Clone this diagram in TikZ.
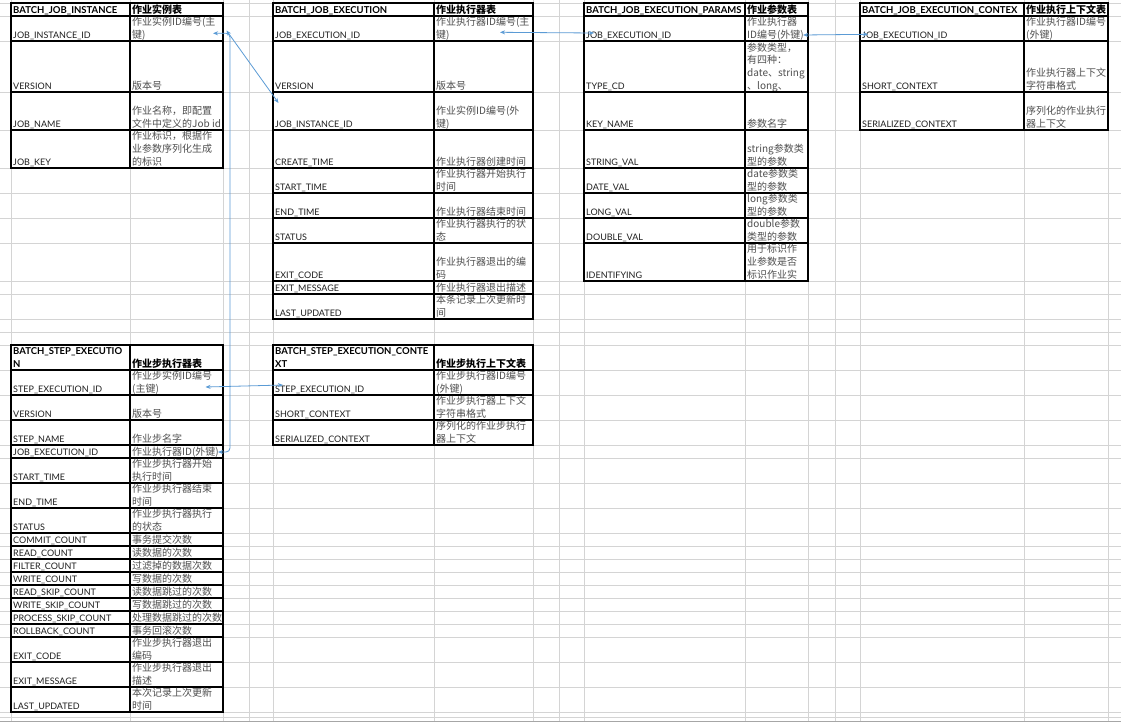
\documentclass[tikz,border=0pt]{standalone}
\usepackage{fontspec}
\newfontfamily\namefont{Lato}
\newfontfamily\cjk{Noto Sans CJK SC}
\usetikzlibrary{arrows.meta}
\definecolor{gridcol}{HTML}{D4D4D4}
\definecolor{namecol}{HTML}{1F1F1F}
\definecolor{desccol}{HTML}{4F4F4F}
\definecolor{arrblue}{HTML}{5B9BD5}
\newcommand\xrow[8]{%
  \draw[tblline] (#2,#5) rectangle (#4,#6) (#3,#5) -- (#3,#6);
  \node[nm] (#1n) at (#2+2,#6-2.5) {#7};
  \node[ds] (#1d) at (#3+2,#6-2.5) {#8};}
\newcommand\xhead[8]{%
  \draw[tblline] (#2,#5) rectangle (#4,#6) (#3,#5) -- (#3,#6);
  \node[hn] (#1n) at (#2+2,#6-2.5) {#7};
  \node[hd] (#1d) at (#3+2,#6-2.5) {#8};}
\begin{document}
\begin{tikzpicture}[x=1pt,y=-1pt,
  gridline/.style={draw=gridcol,line width=0.9pt},
  tblline/.style={draw=black,line width=1.3pt},
  txt/.style={anchor=south west,inner sep=0pt,text depth=0pt,align=left},
  nm/.style={txt,text=namecol,font=\namefont\fontsize{9}{12.7}\selectfont},
  hn/.style={txt,text=black,font=\namefont\bfseries\fontsize{9.5}{12.7}\selectfont},
  ds/.style={txt,text=desccol,font=\cjk\fontsize{10}{12.7}\selectfont},
  hd/.style={txt,text=black,font=\cjk\bfseries\fontsize{10}{12.7}\selectfont},
  conn/.style={draw=arrblue,line width=0.8pt,arrows={Stealth[length=5pt,width=4pt]-Stealth[length=5pt,width=4pt]}}]
\useasboundingbox (0,0) rectangle (1121,723);
\fill[white] (0,0) rectangle (1121,723);
% grid
\foreach \x in {11,130,223,249,273,434,533,559,584,745,808,835,860,1024,1108}
  \draw[gridline] (\x,0) -- (\x,721);
\foreach \y in {3,16,41,92,130,168,193,218,243,281,294,319,332,345,370,395,420,445,458,483,508,533,546,559,572,585,598,611,624,637,662,687,712,717}
  \draw[gridline] (0,\y) -- (1121,\y);
\draw[draw=black!35,line width=1.5pt] (0,721.7) -- (1121,721.7);
% BATCH_JOB_INSTANCE
\xhead{a0}{11}{130}{223}{3}{16}{BATCH\_JOB\_INSTANCE}{作业实例表}
\xrow{a1}{11}{130}{223}{16}{41}{JOB\_INSTANCE\_ID}{作业实例ID编号(主\\键)}
\xrow{a2}{11}{130}{223}{41}{92}{VERSION}{版本号}
\xrow{a3}{11}{130}{223}{92}{130}{JOB\_NAME}{作业名称，即配置\\文件中定义的Job id}
\xrow{a4}{11}{130}{223}{130}{168}{JOB\_KEY}{作业标识，根据作\\业参数序列化生成\\的标识}
% BATCH_JOB_EXECUTION
\xhead{b0}{273}{434}{533}{3}{16}{BATCH\_JOB\_EXECUTION}{作业执行器表}
\xrow{b1}{273}{434}{533}{16}{41}{JOB\_EXECUTION\_ID}{作业执行器ID编号(主\\键)}
\xrow{b2}{273}{434}{533}{41}{92}{VERSION}{版本号}
\xrow{b3}{273}{434}{533}{92}{130}{JOB\_INSTANCE\_ID}{作业实例ID编号(外\\键)}
\xrow{b4}{273}{434}{533}{130}{168}{CREATE\_TIME}{作业执行器创建时间}
\xrow{b5}{273}{434}{533}{168}{193}{START\_TIME}{作业执行器开始执行\\时间}
\xrow{b6}{273}{434}{533}{193}{218}{END\_TIME}{作业执行器结束时间}
\xrow{b7}{273}{434}{533}{218}{243}{STATUS}{作业执行器执行的状\\态}
\xrow{b8}{273}{434}{533}{243}{281}{EXIT\_CODE}{作业执行器退出的编\\码}
\xrow{b9}{273}{434}{533}{281}{294}{EXIT\_MESSAGE}{作业执行器退出描述}
\xrow{b10}{273}{434}{533}{294}{319}{LAST\_UPDATED}{本条记录上次更新时\\间}
% BATCH_JOB_EXECUTION_PARAMS
\xhead{c0}{584}{745}{808}{3}{16}{BATCH\_JOB\_EXECUTION\_PARAMS}{作业参数表}
\xrow{c1}{584}{745}{808}{16}{41}{JOB\_EXECUTION\_ID}{作业执行器\\ID编号(外键)}
\xrow{c2}{584}{745}{808}{41}{92}{TYPE\_CD}{参数类型，\\有四种：\\date、string\\、long、}
\xrow{c3}{584}{745}{808}{92}{130}{KEY\_NAME}{参数名字}
\xrow{c4}{584}{745}{808}{130}{168}{STRING\_VAL}{string参数类\\型的参数}
\xrow{c5}{584}{745}{808}{168}{193}{DATE\_VAL}{date参数类\\型的参数}
\xrow{c6}{584}{745}{808}{193}{218}{LONG\_VAL}{long参数类\\型的参数}
\xrow{c7}{584}{745}{808}{218}{243}{DOUBLE\_VAL}{double参数\\类型的参数}
\xrow{c8}{584}{745}{808}{243}{281}{IDENTIFYING}{用于标识作\\业参数是否\\标识作业实}
% BATCH_JOB_EXECUTION_CONTEX
\xhead{d0}{860}{1024}{1108}{3}{16}{BATCH\_JOB\_EXECUTION\_CONTEX}{作业执行上下文表}
\xrow{d1}{860}{1024}{1108}{16}{41}{JOB\_EXECUTION\_ID}{作业执行器ID编号\\(外键)}
\xrow{d2}{860}{1024}{1108}{41}{92}{SHORT\_CONTEXT}{作业执行器上下文\\字符串格式}
\xrow{d3}{860}{1024}{1108}{92}{130}{SERIALIZED\_CONTEXT}{序列化的作业执行\\器上下文}
% BATCH_STEP_EXECUTION
\xhead{e0}{11}{130}{223}{345}{370}{BATCH\_STEP\_EXECUTIO\\N}{作业步执行器表}
\xrow{e1}{11}{130}{223}{370}{395}{STEP\_EXECUTION\_ID}{作业步实例ID编号\\(主键)}
\xrow{e2}{11}{130}{223}{395}{420}{VERSION}{版本号}
\xrow{e3}{11}{130}{223}{420}{445}{STEP\_NAME}{作业步名字}
\xrow{e4}{11}{130}{223}{445}{458}{JOB\_EXECUTION\_ID}{作业执行器ID(外键)}
\xrow{e5}{11}{130}{223}{458}{483}{START\_TIME}{作业步执行器开始\\执行时间}
\xrow{e6}{11}{130}{223}{483}{508}{END\_TIME}{作业步执行器结束\\时间}
\xrow{e7}{11}{130}{223}{508}{533}{STATUS}{作业步执行器执行\\的状态}
\xrow{e8}{11}{130}{223}{533}{546}{COMMIT\_COUNT}{事务提交次数}
\xrow{e9}{11}{130}{223}{546}{559}{READ\_COUNT}{读数据的次数}
\xrow{e10}{11}{130}{223}{559}{572}{FILTER\_COUNT}{过滤掉的数据次数}
\xrow{e11}{11}{130}{223}{572}{585}{WRITE\_COUNT}{写数据的次数}
\xrow{e12}{11}{130}{223}{585}{598}{READ\_SKIP\_COUNT}{读数据跳过的次数}
\xrow{e13}{11}{130}{223}{598}{611}{WRITE\_SKIP\_COUNT}{写数据跳过的次数}
\xrow{e14}{11}{130}{223}{611}{624}{PROCESS\_SKIP\_COUNT}{处理数据跳过的次数}
\xrow{e15}{11}{130}{223}{624}{637}{ROLLBACK\_COUNT}{事务回滚次数}
\xrow{e16}{11}{130}{223}{637}{662}{EXIT\_CODE}{作业步执行器退出\\编码}
\xrow{e17}{11}{130}{223}{662}{687}{EXIT\_MESSAGE}{作业步执行器退出\\描述}
\xrow{e18}{11}{130}{223}{687}{712}{LAST\_UPDATED}{本次记录上次更新\\时间}
% BATCH_STEP_EXECUTION_CONTEXT
\xhead{f0}{273}{434}{533}{345}{370}{BATCH\_STEP\_EXECUTION\_CONTE\\XT}{作业步执行上下文表}
\xrow{f1}{273}{434}{533}{370}{395}{STEP\_EXECUTION\_ID}{作业步执行器ID编号\\(外键)}
\xrow{f2}{273}{434}{533}{395}{420}{SHORT\_CONTEXT}{作业步执行器上下文\\字符串格式}
\xrow{f3}{273}{434}{533}{420}{445}{SERIALIZED\_CONTEXT}{序列化的作业步执行\\器上下文}
% connectors
\coordinate (pA) at (500,32.3);
\coordinate (pB) at (594,33);
\coordinate (pC) at (803,35);
\coordinate (pD) at (868,34.3);
\coordinate (pE) at (205.5,387);
\coordinate (pF) at (283,385);
\coordinate (pG) at (226.5,30.5);
\coordinate (pH) at (278.5,103);
\coordinate (pI) at (218,452);
\coordinate (pJ) at (230,33.3);
\coordinate (pK) at (213,33.3);
\draw[conn] (pA) -- (pB);
\draw[conn] (pC) -- (pD);
\draw[conn] (pE) -- (pF);
\draw[conn] (pG) -- (pH);
\draw[conn,rounded corners=4pt] (pI) -| (pJ) -- (pK);
\end{tikzpicture}
\end{document}
